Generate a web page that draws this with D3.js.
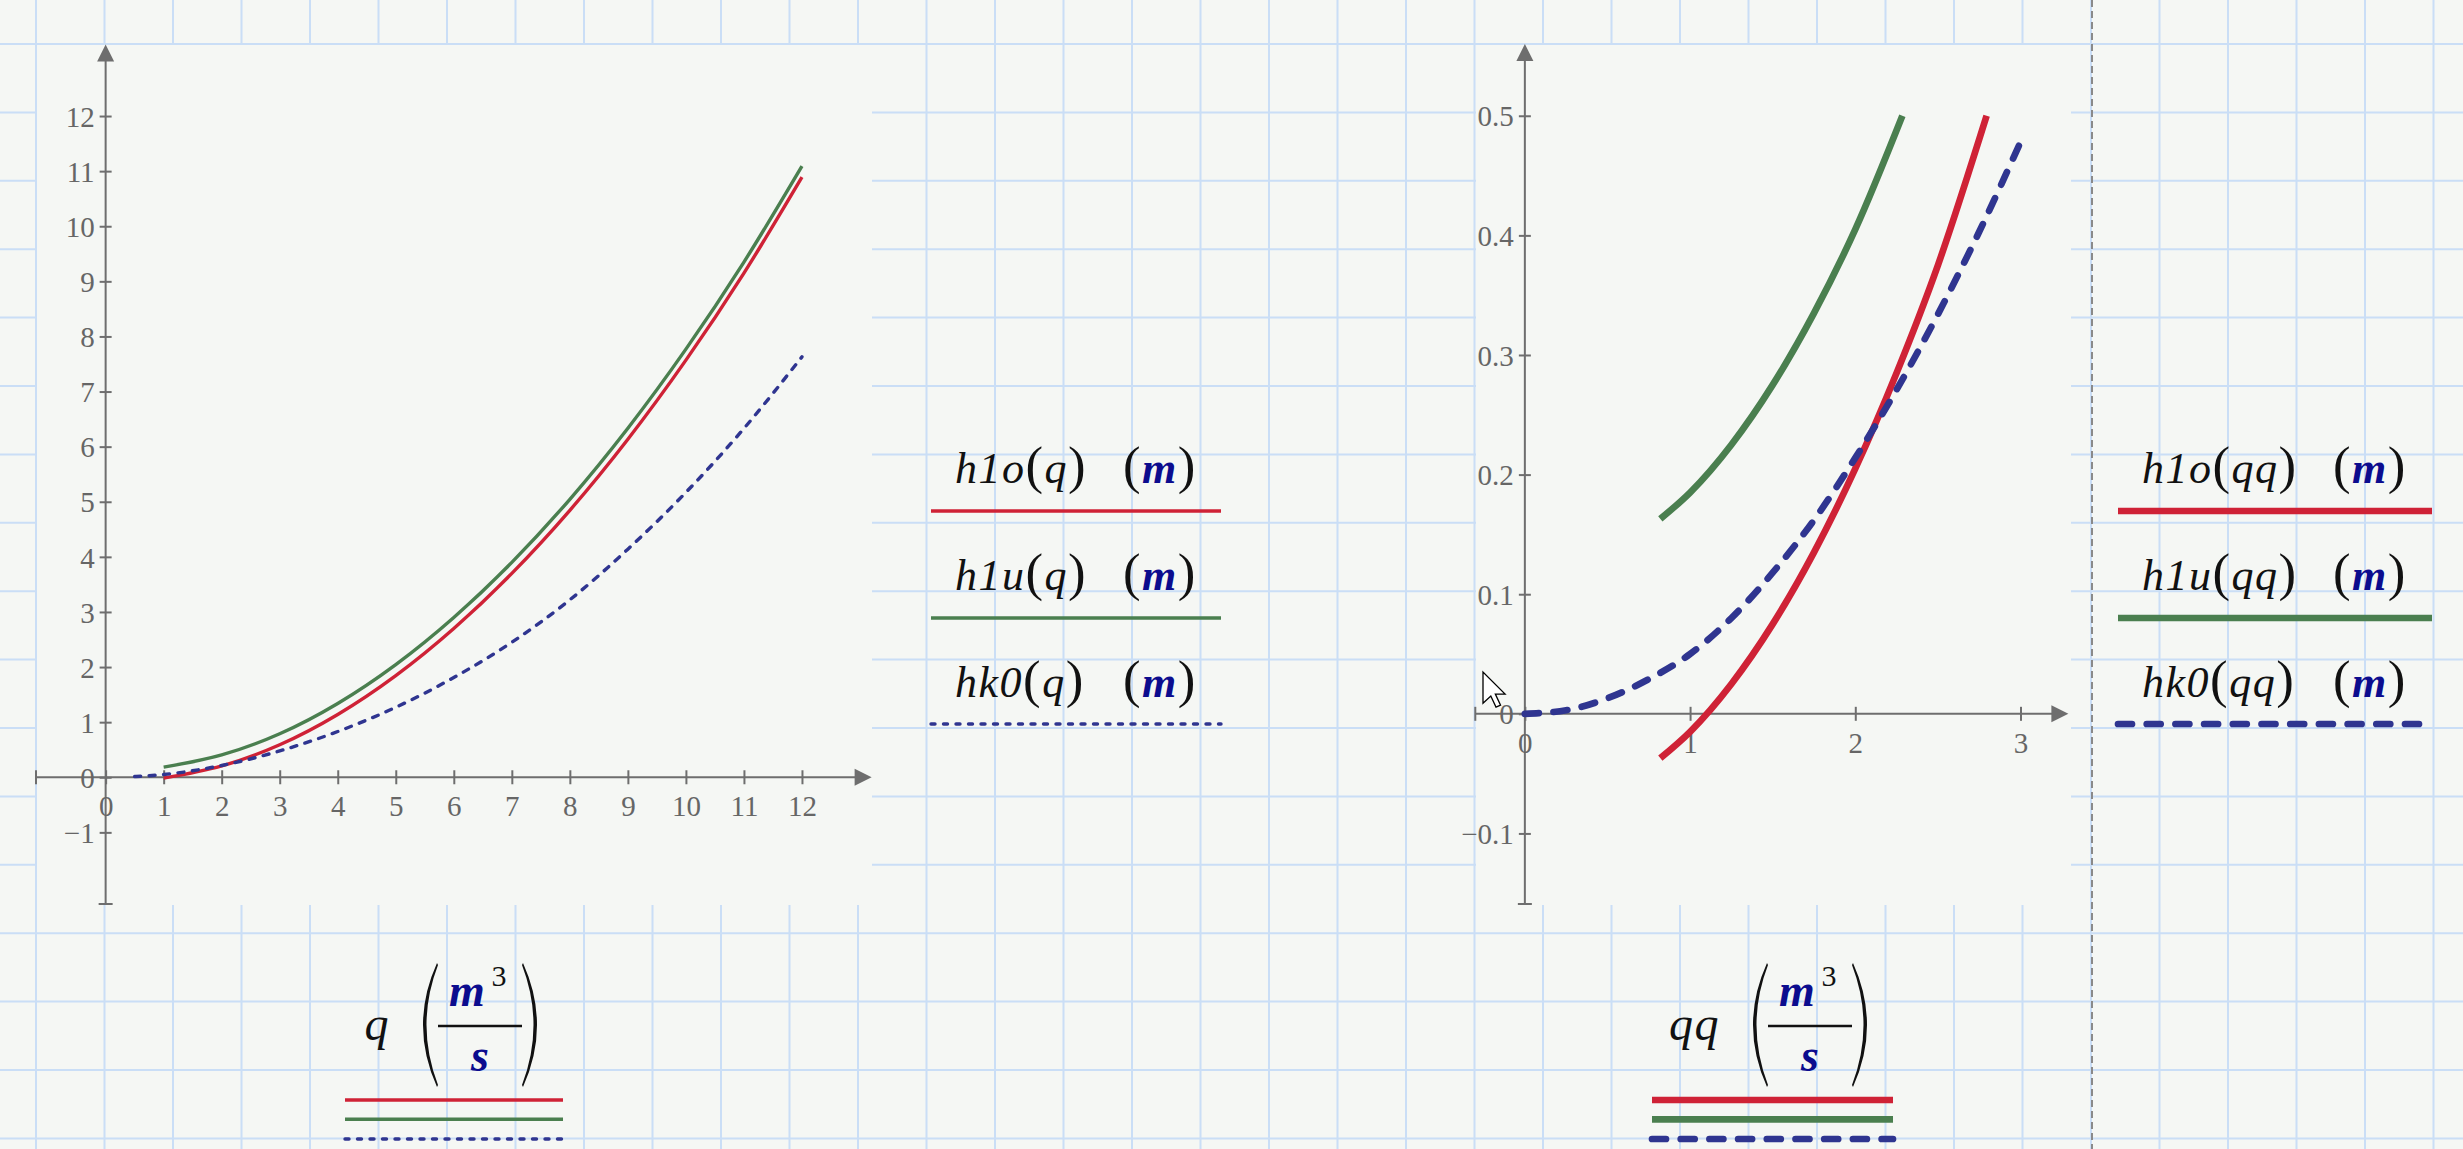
<!DOCTYPE html>
<html>
<head>
<meta charset="utf-8">
<script src="https://cdn.jsdelivr.net/npm/d3@7"></script>
<style>
  html, body { margin: 0; padding: 0; background: #f5f7f4; overflow: hidden; }
  svg { display: block; }
</style>
</head>
<body>
<div id="sheet"></div>
<script>
// left plot, q in m^3/s
const qLeft = [1, 2, 3, 4, 5, 6, 7, 8, 9, 10, 11, 12];
const h1oLeft = [-0.016, 0.205, 0.59, 1.14, 1.845, 2.70, 3.70, 4.845, 6.135, 7.57, 9.15, 10.89];
const h1uLeft = [0.184, 0.405, 0.79, 1.34, 2.045, 2.90, 3.90, 5.045, 6.335, 7.77, 9.35, 11.09];
const qLeftK = [0.5, 1, 2, 3, 4, 5, 6, 7, 8, 9, 10, 11, 12];
const hk0Left = [0.013, 0.05, 0.214, 0.478, 0.83, 1.27, 1.81, 2.45, 3.22, 4.14, 5.17, 6.33, 7.63];

// right plot, qq (zoomed range)
const qqO = [0.82, 1.0, 1.25, 1.5, 1.75, 2.0, 2.25, 2.5, 2.795];
const h1oRight = [-0.037, -0.015, 0.025, 0.075, 0.135, 0.205, 0.285, 0.375, 0.50];
const qqU = [0.82, 1.0, 1.25, 1.5, 1.75, 2.0, 2.285];
const h1uRight = [0.163, 0.185, 0.225, 0.275, 0.335, 0.405, 0.50];
const qqK = [0, 0.25, 0.5, 0.75, 1, 1.25, 1.5, 1.75, 2, 2.25, 2.5, 2.75, 3];
const hk0Right = [0, 0.003, 0.013, 0.029, 0.05, 0.08, 0.118, 0.162, 0.214, 0.271, 0.334, 0.403, 0.478];

const xTicksLeft = [0, 1, 2, 3, 4, 5, 6, 7, 8, 9, 10, 11, 12];
const yTicksLeft = [-1, 0, 1, 2, 3, 4, 5, 6, 7, 8, 9, 10, 11, 12];
const xTicksRight = [0, 1, 2, 3];
const yTicksRight = [-0.1, 0, 0.1, 0.2, 0.3, 0.4, 0.5];

const seriesNames = ['h1o', 'h1u', 'hk0'];

var MC = MC || {};
MC.Sheet = {
    W: 2463,
    H: 1149,
    colors: { h1o: '#cf2236', h1u: '#4a7f4f', hk0: '#2f3590' },
    axisColor: '#6e6e6e',
    unitBlue: '#0c0c8e',

    init: function() {
        const svg = d3.select('#sheet').append('svg')
            .attr('width', this.W)
            .attr('height', this.H);

        svg.append('rect').attr('width', this.W).attr('height', this.H).attr('fill', '#f5f7f4');
        this.drawGrid(svg);

        // plot regions hide the grid
        svg.append('rect').attr('x', 37).attr('y', 45).attr('width', 835).attr('height', 860).attr('fill', '#f5f7f4');
        svg.append('rect').attr('x', 1476).attr('y', 45).attr('width', 595).attr('height', 860).attr('fill', '#f5f7f4');

        const left = {
            x: d3.scaleLinear().domain([-1.2, 13.2]).range([36, 871.6]),
            y: d3.scaleLinear().domain([-2.3, 13.3]).range([904, 44.4])
        };
        const right = {
            x: d3.scaleLinear().domain([-0.3, 3.29]).range([1475.3, 2068.4]),
            y: d3.scaleLinear().domain([-0.159, 0.56]).range([904, 44])
        };

        const fmtLeft = d => d < 0 ? '\u2212' + Math.abs(d) : String(d);
        const fmtRight = d => d === 0 ? '0' : d3.format('.1f')(d);

        this.drawAxes(svg, left, xTicksLeft, yTicksLeft, fmtLeft, fmtLeft);
        this.drawAxes(svg, right, xTicksRight, yTicksRight, fmtLeft, fmtRight);

        const thin = { width: 3.4, dash: '6,8.5' };
        const thick = { width: 6.7, dash: '14,14.7' };

        this.drawSeries(svg, left, qLeft, h1oLeft, this.colors.h1o, thin.width, null);
        this.drawSeries(svg, left, qLeft, h1uLeft, this.colors.h1u, thin.width, null);
        this.drawSeries(svg, left, qLeftK, hk0Left, this.colors.hk0, thin.width, thin.dash);

        this.drawSeries(svg, right, qqO, h1oRight, this.colors.h1o, thick.width, null);
        this.drawSeries(svg, right, qqU, h1uRight, this.colors.h1u, thick.width, null);
        this.drawSeries(svg, right, qqK, hk0Right, this.colors.hk0, thick.width, thick.dash);

        this.drawLegend(svg, 931, 1221, 955, 1123, 'q', thin.width, '4,8.5');
        this.drawLegend(svg, 2118, 2432, 2142, 2333, 'qq', thick.width, thick.dash);

        this.drawUnitLabel(svg, 423, 'q', 345, 563, thin.width, '4,8.5');
        this.drawUnitLabel(svg, 1753, 'qq', 1652, 1893, thick.width, thick.dash);

        // region separator
        svg.append('line')
            .attr('x1', 2092).attr('x2', 2092).attr('y1', 0).attr('y2', this.H)
            .attr('stroke', '#8a8a8a').attr('stroke-width', 2).attr('stroke-dasharray', '7,4');

        this.drawCursor(svg, 1483, 672);
    },

    drawGrid: function(svg) {
        const g = svg.append('g').attr('stroke', '#cadef6').attr('stroke-width', 2);
        for (let x = 36; x < this.W; x += 68.5) {
            g.append('line').attr('x1', x).attr('x2', x).attr('y1', 0).attr('y2', this.H);
        }
        for (let y = 44; y < this.H; y += 68.4) {
            g.append('line').attr('x1', 0).attr('x2', this.W).attr('y1', y).attr('y2', y);
        }
    },

    drawAxes: function(svg, sc, xTicks, yTicks, xFmt, yFmt) {
        const col = this.axisColor;
        const g = svg.append('g');
        const ox = sc.x(0), oy = sc.y(0);
        const xr = sc.x.range(), yr = sc.y.range();

        // x axis line + arrow + left cap
        g.append('line').attr('x1', xr[0]).attr('x2', xr[1] - 14).attr('y1', oy).attr('y2', oy)
            .attr('stroke', col).attr('stroke-width', 2);
        g.append('path').attr('d', `M${xr[1]},${oy}L${xr[1] - 17},${oy - 8.5}L${xr[1] - 17},${oy + 8.5}Z`).attr('fill', col);
        g.append('line').attr('x1', xr[0]).attr('x2', xr[0]).attr('y1', oy - 7).attr('y2', oy + 7)
            .attr('stroke', col).attr('stroke-width', 2);

        // y axis line + arrow + bottom cap
        g.append('line').attr('x1', ox).attr('x2', ox).attr('y1', yr[0]).attr('y2', yr[1] + 14)
            .attr('stroke', col).attr('stroke-width', 2);
        g.append('path').attr('d', `M${ox},${yr[1]}L${ox - 8.5},${yr[1] + 17}L${ox + 8.5},${yr[1] + 17}Z`).attr('fill', col);
        g.append('line').attr('x1', ox - 7).attr('x2', ox + 7).attr('y1', yr[0]).attr('y2', yr[0])
            .attr('stroke', col).attr('stroke-width', 2);

        const xAxis = g.append('g')
            .attr('transform', `translate(0,${oy})`)
            .call(d3.axisBottom(sc.x).tickValues(xTicks).tickSize(7).tickFormat(xFmt));
        xAxis.select('.domain').remove();
        xAxis.selectAll('.tick line').attr('y1', -7).attr('stroke', col).attr('stroke-width', 2);
        xAxis.selectAll('.tick text').attr('y', 29).attr('dy', '0.35em');

        const yAxis = g.append('g')
            .attr('transform', `translate(${ox},0)`)
            .call(d3.axisLeft(sc.y).tickValues(yTicks).tickSize(6).tickPadding(5).tickFormat(yFmt));
        yAxis.select('.domain').remove();
        yAxis.selectAll('.tick line').attr('x1', 6).attr('stroke', col).attr('stroke-width', 2);
        yAxis.selectAll('.tick text').attr('dy', '0.35em');

        g.selectAll('.tick text')
            .attr('font-family', '"Liberation Serif", serif')
            .attr('font-size', 29)
            .attr('fill', '#666');
    },

    drawSeries: function(svg, sc, xs, ys, color, width, dash) {
        const pts = xs.map((d, i) => [d, ys[i]]);
        const line = d3.line()
            .x(d => sc.x(d[0]))
            .y(d => sc.y(d[1]))
            .curve(d3.curveMonotoneX);
        svg.append('path')
            .datum(pts)
            .attr('d', line)
            .attr('fill', 'none')
            .attr('stroke', color)
            .attr('stroke-width', width)
            .attr('stroke-linecap', dash ? 'round' : 'butt')
            .attr('stroke-dasharray', dash);
    },

    mathText: function(g, x, y, size, parts) {
        const t = g.append('text')
            .attr('x', x).attr('y', y)
            .attr('font-family', '"Liberation Serif", serif')
            .attr('font-size', size)
            .attr('fill', '#111')
            .attr('letter-spacing', 1.5);
        parts.forEach(p => {
            const s = t.append('tspan').text(p.t);
            if (p.italic) s.attr('font-style', 'italic');
            if (p.paren) s.attr('font-size', size * 1.2);
            if (p.unit) s.attr('font-style', 'italic').attr('font-weight', 'bold').attr('fill', this.unitBlue);
        });
        return t;
    },

    drawLegend: function(svg, x1, x2, tx, ux, arg, width, dash) {
        const g = svg.append('g');
        const baselines = [483, 590, 697];
        const lineYs = [511, 618, 724];
        seriesNames.forEach((name, i) => {
            this.mathText(g, tx, baselines[i], 44, [
                { t: name, italic: true },
                { t: '(', paren: true },
                { t: arg, italic: true },
                { t: ')', paren: true }
            ]);
            this.mathText(g, ux, baselines[i], 44, [
                { t: '(', paren: true },
                { t: 'm', unit: true },
                { t: ')', paren: true }
            ]);
            g.append('line')
                .attr('x1', x1).attr('x2', x2).attr('y1', lineYs[i]).attr('y2', lineYs[i])
                .attr('stroke', this.colors[name])
                .attr('stroke-width', width)
                .attr('stroke-linecap', name === 'hk0' ? 'round' : 'butt')
                .attr('stroke-dasharray', name === 'hk0' ? dash : null);
        });
    },

    drawUnitLabel: function(svg, x0, name, lx1, lx2, width, dash) {
        const g = svg.append('g');
        this.mathText(g, x0 - 33, 1040, 48, [{ t: name, italic: true }]).attr('text-anchor', 'end');

        // big parentheses around m^3/s
        g.append('path')
            .attr('d', `M${x0 + 14},963Q${x0 - 14},1025 ${x0 + 14},1087L${x0 + 15},1085Q${x0 - 8},1025 ${x0 + 15},965Z`)
            .attr('fill', '#111');
        g.append('path')
            .attr('d', `M${x0 + 100},963Q${x0 + 128},1025 ${x0 + 100},1087L${x0 + 99},1085Q${x0 + 122},1025 ${x0 + 99},965Z`)
            .attr('fill', '#111');

        g.append('text').attr('x', x0 + 44).attr('y', 1006).attr('text-anchor', 'middle')
            .attr('font-family', '"Liberation Serif", serif').attr('font-size', 46)
            .attr('font-style', 'italic').attr('font-weight', 'bold').attr('fill', this.unitBlue).text('m');
        g.append('text').attr('x', x0 + 76).attr('y', 986).attr('text-anchor', 'middle')
            .attr('font-family', '"Liberation Serif", serif').attr('font-size', 30)
            .attr('fill', '#111').text('3');
        g.append('line').attr('x1', x0 + 15).attr('x2', x0 + 99).attr('y1', 1026).attr('y2', 1026)
            .attr('stroke', '#111').attr('stroke-width', 2.5);
        g.append('text').attr('x', x0 + 57).attr('y', 1071).attr('text-anchor', 'middle')
            .attr('font-family', '"Liberation Serif", serif').attr('font-size', 46)
            .attr('font-style', 'italic').attr('font-weight', 'bold').attr('fill', this.unitBlue).text('s');

        const ys = [1100, 1119.3, 1139];
        seriesNames.forEach((s, i) => {
            g.append('line')
                .attr('x1', lx1).attr('x2', lx2).attr('y1', ys[i]).attr('y2', ys[i])
                .attr('stroke', this.colors[s])
                .attr('stroke-width', width)
                .attr('stroke-linecap', s === 'hk0' ? 'round' : 'butt')
                .attr('stroke-dasharray', s === 'hk0' ? dash : null);
        });
    },

    drawCursor: function(svg, x, y) {
        svg.append('path')
            .attr('transform', `translate(${x},${y}) scale(1.3)`)
            .attr('d', 'M0,0L0,24L6,18.5L10,27L13.5,25.5L9.5,17L17,17Z')
            .attr('fill', '#fff')
            .attr('stroke', '#000')
            .attr('stroke-width', 1);
    }
};

MC.Sheet.init();
</script>
</body>
</html>
